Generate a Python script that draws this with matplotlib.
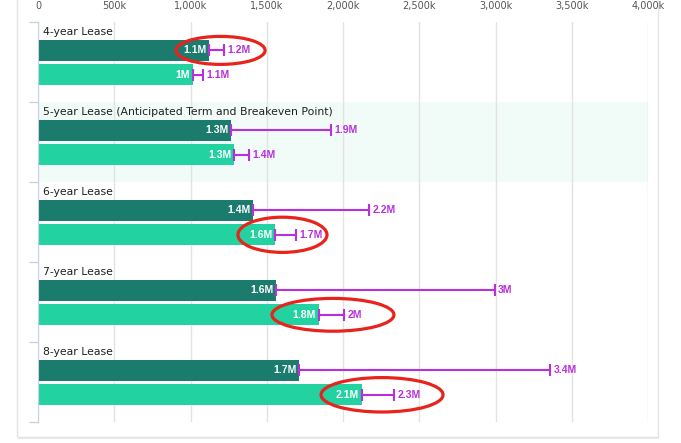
import matplotlib.pyplot as plt
import numpy as np
from matplotlib.patches import Ellipse, Rectangle

# values in thousands
groups = ['4-year Lease', '5-year Lease (Anticipated Term and Breakeven Point)',
          '6-year Lease', '7-year Lease', '8-year Lease']
dark_vals = [1121, 1266, 1412, 1562, 1713]
dark_high = [1220, 1921, 2170, 2995, 3357]
light_vals = [1014, 1285, 1554, 1841, 2123]
light_high = [1084, 1382, 1690, 2008, 2336]
x_ticks = [0, 500, 1000, 1500, 2000, 2500, 3000, 3500, 4000]
highlight_group = 1
# red circles: (group index, which bar, shift from bar end in k, width in k, height)
circled = [(0, 'dark', 76, 584, 0.35),
           (2, 'light', 49, 584, 0.44),
           (3, 'light', 93, 800, 0.41),
           (4, 'light', 133, 800, 0.43)]

DARK = '#1b7b6d'
LIGHT = '#23d2a1'
PURPLE = '#b92fdc'
RED = '#e8231b'


def fmt_m(v):
    s = f'{v / 1000:.1f}'
    if s.endswith('.0'):
        s = s[:-2]
    return s + 'M'


if __name__ == '__main__':
    fig = plt.figure(figsize=(6.81, 4.43), dpi=100)
    fig.patch.set_facecolor('white')

    # card background with soft shadow
    fig.patches.append(Rectangle((0.0264, 0.0090), 0.9420, 1.2, transform=fig.transFigure,
                                 facecolor='#ececec', edgecolor='none', zorder=-11))
    fig.patches.append(Rectangle((0.0250, 0.0135), 0.9412, 1.2, transform=fig.transFigure,
                                 facecolor='white', edgecolor='#e4e4e4', lw=1, zorder=-10))

    ax = fig.add_axes([38 / 681, 1 - 422 / 443, 610 / 681, 400 / 443])
    ax.patch.set_alpha(0)

    n = len(groups)
    y = np.arange(n)
    y_dark = y + 0.355
    y_light = y + 0.66
    h = 0.26

    ax.axhspan(highlight_group, highlight_group + 1, color='#f1fbf8', zorder=0, lw=0)

    ax.barh(y_dark, dark_vals, height=h, color=DARK, zorder=2)
    ax.barh(y_light, light_vals, height=h, color=LIGHT, zorder=2)

    dv, dh = np.array(dark_vals), np.array(dark_high)
    lv, lh = np.array(light_vals), np.array(light_high)
    ax.errorbar(dv, y_dark, xerr=[np.zeros(n), dh - dv], fmt='none', ecolor=PURPLE,
                elinewidth=1.5, capsize=4, capthick=1.5, zorder=3)
    ax.errorbar(lv, y_light, xerr=[np.zeros(n), lh - lv], fmt='none', ecolor=PURPLE,
                elinewidth=1.5, capsize=4, capthick=1.5, zorder=3)

    lab_font = dict(family=['Liberation Sans', 'DejaVu Sans'], fontsize=7.5, fontweight='bold')
    for yy, v, hi in list(zip(y_dark, dark_vals, dark_high)) + list(zip(y_light, light_vals, light_high)):
        ax.annotate(fmt_m(v), (v, yy), xytext=(-2, 0), textcoords='offset points',
                    ha='right', va='center', color='white', zorder=4, **lab_font)
        ax.annotate(fmt_m(hi), (hi, yy), xytext=(2.5, 0), textcoords='offset points',
                    ha='left', va='center', color=PURPLE, zorder=4, **lab_font)

    for i, g in enumerate(groups):
        ax.text(0.008, i + 0.125, g, transform=ax.get_yaxis_transform(),
                ha='left', va='center', fontsize=7.8, color='#222222', zorder=4)

    # red circles around selected bar ends
    for gi, which, dx, w, eh in circled:
        if which == 'dark':
            v, yy = dark_vals[gi], y_dark[gi]
        else:
            v, yy = light_vals[gi], y_light[gi]
        ax.add_patch(Ellipse((v + dx, yy), w, eh, fill=False,
                             ec=RED, lw=2.3, zorder=5))

    ax.set_xlim(0, 4000)
    ax.set_ylim(n, 0)
    ax.set_xticks(x_ticks)
    ax.set_xticklabels([f'{t:,}k' if t else '0' for t in x_ticks])
    ax.xaxis.tick_top()
    ax.tick_params(axis='x', length=0, pad=8, labelsize=7, labelcolor='#555555')
    ax.set_yticks(np.arange(n + 1))
    ax.set_yticklabels([])
    ax.tick_params(axis='y', length=6.5, width=1, color='#c9d2e3')
    ax.grid(axis='x', color='#e3e3e3', lw=1, zorder=1)
    ax.set_axisbelow(True)
    for s in ['top', 'right', 'bottom']:
        ax.spines[s].set_visible(False)
    ax.spines['left'].set_color('#c9d2e3')
    ax.spines['left'].set_zorder(3)

    plt.savefig('out.png', dpi=100)
